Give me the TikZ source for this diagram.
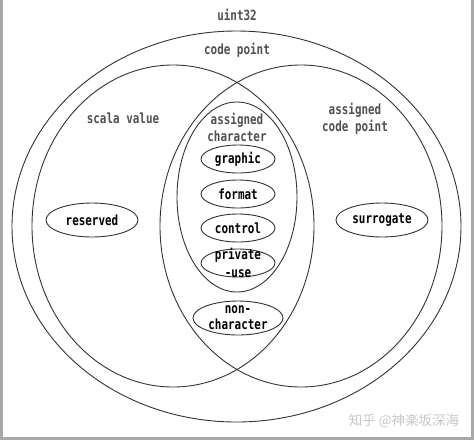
\documentclass[tikz,border=0pt]{standalone}
\usepackage{fontspec}
\usetikzlibrary{shapes.geometric}
\newfontfamily\vennfont[FakeStretch=0.78]{DejaVu Sans Mono}
\newfontfamily\cjkfont{Noto Sans CJK SC}
\definecolor{LineGray}{HTML}{333333}
\definecolor{TextGray}{HTML}{505050}
\definecolor{FrameGray}{HTML}{A8A8A8}
\definecolor{MarkGray}{HTML}{C8C8C8}
\tikzset{
  ring/.style={draw=LineGray, line width=0.9pt},
  lbl/.style={text=TextGray, font=\vennfont\bfseries\fontsize{14}{17}\selectfont,
    inner sep=0pt, align=center},
  tag/.style={ellipse, draw=LineGray, line width=0.9pt, inner sep=0pt,
    minimum width=74pt, minimum height=28pt,
    font=\vennfont\bfseries\fontsize{14}{17}\selectfont, align=center},
  widetag/.style={tag, minimum width=92pt, minimum height=34pt}
}

\begin{document}
\begin{tikzpicture}[x=1pt, y=-1pt]
  \useasboundingbox (0,0) rectangle (474,440);
  \fill[white] (0,0) rectangle (474,440);
  \draw[FrameGray, line width=3pt] (1.5,0) -- (1.5,438.5) -- (472.5,438.5) -- (472.5,0);

  % the four big sets
  \draw[ring] (236.5,226.5) ellipse (224.5 and 195.5);
  \draw[ring] (173,226) ellipse (141 and 161);
  \draw[ring] (301,226) ellipse (141 and 161);
  \draw[ring] (237,197) ellipse (60 and 95);

  \node[lbl] (uint) at (237,15) {uint32};
  \node[lbl] (cpoint) at (237,50) {code point};
  \node[lbl] (scalar) at (123,118) {scala value};
  \node[lbl] (assigned) at (355,119) {assigned\\code point};
  \node[lbl] (achar) at (237,127) {assigned\\character};

  % categories
  \node[tag] (graphic) at (238,159) {graphic};
  \node[tag] (format) at (238,194) {format};
  \node[tag] (control) at (238,228) {control};
  \node[tag] (private) at (238,263) {};
  \node[font=\vennfont\bfseries\fontsize{14}{18}\selectfont, align=center, inner sep=0pt]
    (privtext) at (private) {private\\-use};
  \node[widetag, minimum width=90pt] (nonchar) at (238,318) {};
  \node[font=\vennfont\bfseries\fontsize{14}{16}\selectfont, align=center, inner sep=0pt]
    (nontext) at (nonchar) {non-\\character};
  \node[widetag] (reserved) at (92,220) {reserved};
  \node[widetag] (surrogate) at (382,220) {surrogate};

  \node[text=MarkGray, font=\cjkfont\fontsize{13.5}{15}\selectfont, inner sep=0pt]
    (wmark) at (404,421) {知乎 @神楽坂深海};
\end{tikzpicture}
\end{document}
